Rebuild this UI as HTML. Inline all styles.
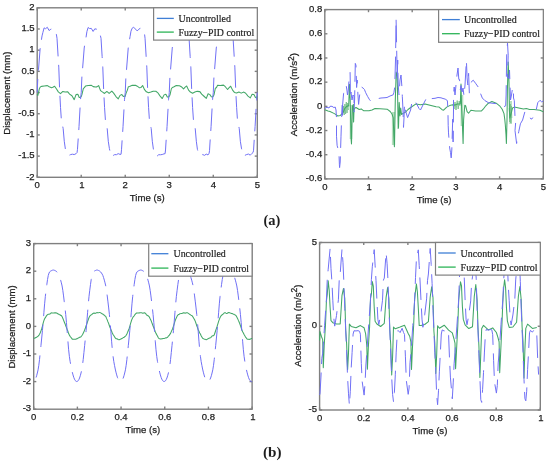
<!DOCTYPE html>
<html><head><meta charset="utf-8"><style>html,body{margin:0;padding:0;background:#fff;}svg{display:block;}</style></head>
<body><svg width="550" height="462" viewBox="0 0 550 462">
<rect width="550" height="462" fill="#fff"/>
<g stroke="#808080" stroke-width="1.4"><line x1="37.20" y1="177.30" x2="37.20" y2="174.70"/><line x1="37.20" y1="7.80" x2="37.20" y2="10.40"/><line x1="81.22" y1="177.30" x2="81.22" y2="174.70"/><line x1="81.22" y1="7.80" x2="81.22" y2="10.40"/><line x1="125.24" y1="177.30" x2="125.24" y2="174.70"/><line x1="125.24" y1="7.80" x2="125.24" y2="10.40"/><line x1="169.26" y1="177.30" x2="169.26" y2="174.70"/><line x1="169.26" y1="7.80" x2="169.26" y2="10.40"/><line x1="213.28" y1="177.30" x2="213.28" y2="174.70"/><line x1="213.28" y1="7.80" x2="213.28" y2="10.40"/><line x1="257.30" y1="177.30" x2="257.30" y2="174.70"/><line x1="257.30" y1="7.80" x2="257.30" y2="10.40"/><line x1="37.20" y1="177.30" x2="39.80" y2="177.30"/><line x1="257.30" y1="177.30" x2="254.70" y2="177.30"/><line x1="37.20" y1="156.11" x2="39.80" y2="156.11"/><line x1="257.30" y1="156.11" x2="254.70" y2="156.11"/><line x1="37.20" y1="134.93" x2="39.80" y2="134.93"/><line x1="257.30" y1="134.93" x2="254.70" y2="134.93"/><line x1="37.20" y1="113.74" x2="39.80" y2="113.74"/><line x1="257.30" y1="113.74" x2="254.70" y2="113.74"/><line x1="37.20" y1="92.55" x2="39.80" y2="92.55"/><line x1="257.30" y1="92.55" x2="254.70" y2="92.55"/><line x1="37.20" y1="71.36" x2="39.80" y2="71.36"/><line x1="257.30" y1="71.36" x2="254.70" y2="71.36"/><line x1="37.20" y1="50.18" x2="39.80" y2="50.18"/><line x1="257.30" y1="50.18" x2="254.70" y2="50.18"/><line x1="37.20" y1="28.99" x2="39.80" y2="28.99"/><line x1="257.30" y1="28.99" x2="254.70" y2="28.99"/><line x1="37.20" y1="7.80" x2="39.80" y2="7.80"/><line x1="257.30" y1="7.80" x2="254.70" y2="7.80"/><rect x="37.20" y="7.80" width="220.10" height="169.50" fill="none"/></g><g font-family="'Liberation Sans', Arial, sans-serif" font-size="9.5" fill="#1e1e1e" stroke="#1e1e1e" stroke-width="0.25"><text x="37.20" y="187.90" text-anchor="middle">0</text><text x="81.92" y="187.90" text-anchor="middle">1</text><text x="125.24" y="187.90" text-anchor="middle">2</text><text x="169.26" y="187.90" text-anchor="middle">3</text><text x="213.28" y="187.90" text-anchor="middle">4</text><text x="257.30" y="187.90" text-anchor="middle">5</text><text x="34.60" y="179.50" text-anchor="end">-2</text><text x="34.60" y="158.31" text-anchor="end">-1.5</text><text x="34.60" y="137.12" text-anchor="end">-1</text><text x="34.60" y="115.94" text-anchor="end">-0.5</text><text x="34.60" y="94.75" text-anchor="end">0</text><text x="34.60" y="73.56" text-anchor="end">0.5</text><text x="34.60" y="52.38" text-anchor="end">1</text><text x="34.60" y="31.19" text-anchor="end">1.5</text><text x="34.60" y="10.00" text-anchor="end">2</text></g><g stroke="#808080" stroke-width="1.4"><line x1="324.80" y1="178.90" x2="324.80" y2="176.30"/><line x1="324.80" y1="9.60" x2="324.80" y2="12.20"/><line x1="368.50" y1="178.90" x2="368.50" y2="176.30"/><line x1="368.50" y1="9.60" x2="368.50" y2="12.20"/><line x1="412.20" y1="178.90" x2="412.20" y2="176.30"/><line x1="412.20" y1="9.60" x2="412.20" y2="12.20"/><line x1="455.90" y1="178.90" x2="455.90" y2="176.30"/><line x1="455.90" y1="9.60" x2="455.90" y2="12.20"/><line x1="499.60" y1="178.90" x2="499.60" y2="176.30"/><line x1="499.60" y1="9.60" x2="499.60" y2="12.20"/><line x1="543.30" y1="178.90" x2="543.30" y2="176.30"/><line x1="543.30" y1="9.60" x2="543.30" y2="12.20"/><line x1="324.80" y1="178.90" x2="327.40" y2="178.90"/><line x1="543.30" y1="178.90" x2="540.70" y2="178.90"/><line x1="324.80" y1="154.71" x2="327.40" y2="154.71"/><line x1="543.30" y1="154.71" x2="540.70" y2="154.71"/><line x1="324.80" y1="130.53" x2="327.40" y2="130.53"/><line x1="543.30" y1="130.53" x2="540.70" y2="130.53"/><line x1="324.80" y1="106.34" x2="327.40" y2="106.34"/><line x1="543.30" y1="106.34" x2="540.70" y2="106.34"/><line x1="324.80" y1="82.16" x2="327.40" y2="82.16"/><line x1="543.30" y1="82.16" x2="540.70" y2="82.16"/><line x1="324.80" y1="57.97" x2="327.40" y2="57.97"/><line x1="543.30" y1="57.97" x2="540.70" y2="57.97"/><line x1="324.80" y1="33.79" x2="327.40" y2="33.79"/><line x1="543.30" y1="33.79" x2="540.70" y2="33.79"/><line x1="324.80" y1="9.60" x2="327.40" y2="9.60"/><line x1="543.30" y1="9.60" x2="540.70" y2="9.60"/><rect x="324.80" y="9.60" width="218.50" height="169.30" fill="none"/></g><g font-family="'Liberation Sans', Arial, sans-serif" font-size="9.5" fill="#1e1e1e" stroke="#1e1e1e" stroke-width="0.25"><text x="324.80" y="189.50" text-anchor="middle">0</text><text x="369.20" y="189.50" text-anchor="middle">1</text><text x="412.20" y="189.50" text-anchor="middle">2</text><text x="455.90" y="189.50" text-anchor="middle">3</text><text x="499.60" y="189.50" text-anchor="middle">4</text><text x="543.30" y="189.50" text-anchor="middle">5</text><text x="322.20" y="181.10" text-anchor="end">-0.6</text><text x="322.20" y="156.91" text-anchor="end">-0.4</text><text x="322.20" y="132.73" text-anchor="end">-0.2</text><text x="322.20" y="108.54" text-anchor="end">0</text><text x="322.20" y="84.36" text-anchor="end">0.2</text><text x="322.20" y="60.17" text-anchor="end">0.4</text><text x="322.20" y="35.99" text-anchor="end">0.6</text><text x="322.20" y="11.80" text-anchor="end">0.8</text></g><g stroke="#808080" stroke-width="1.4"><line x1="33.70" y1="409.20" x2="33.70" y2="406.60"/><line x1="33.70" y1="243.60" x2="33.70" y2="246.20"/><line x1="77.38" y1="409.20" x2="77.38" y2="406.60"/><line x1="77.38" y1="243.60" x2="77.38" y2="246.20"/><line x1="121.06" y1="409.20" x2="121.06" y2="406.60"/><line x1="121.06" y1="243.60" x2="121.06" y2="246.20"/><line x1="164.74" y1="409.20" x2="164.74" y2="406.60"/><line x1="164.74" y1="243.60" x2="164.74" y2="246.20"/><line x1="208.42" y1="409.20" x2="208.42" y2="406.60"/><line x1="208.42" y1="243.60" x2="208.42" y2="246.20"/><line x1="252.10" y1="409.20" x2="252.10" y2="406.60"/><line x1="252.10" y1="243.60" x2="252.10" y2="246.20"/><line x1="33.70" y1="409.20" x2="36.30" y2="409.20"/><line x1="252.10" y1="409.20" x2="249.50" y2="409.20"/><line x1="33.70" y1="381.60" x2="36.30" y2="381.60"/><line x1="252.10" y1="381.60" x2="249.50" y2="381.60"/><line x1="33.70" y1="354.00" x2="36.30" y2="354.00"/><line x1="252.10" y1="354.00" x2="249.50" y2="354.00"/><line x1="33.70" y1="326.40" x2="36.30" y2="326.40"/><line x1="252.10" y1="326.40" x2="249.50" y2="326.40"/><line x1="33.70" y1="298.80" x2="36.30" y2="298.80"/><line x1="252.10" y1="298.80" x2="249.50" y2="298.80"/><line x1="33.70" y1="271.20" x2="36.30" y2="271.20"/><line x1="252.10" y1="271.20" x2="249.50" y2="271.20"/><line x1="33.70" y1="243.60" x2="36.30" y2="243.60"/><line x1="252.10" y1="243.60" x2="249.50" y2="243.60"/><rect x="33.70" y="243.60" width="218.40" height="165.60" fill="none"/></g><g font-family="'Liberation Sans', Arial, sans-serif" font-size="9.5" fill="#1e1e1e" stroke="#1e1e1e" stroke-width="0.25"><text x="33.70" y="419.80" text-anchor="middle">0</text><text x="77.38" y="419.80" text-anchor="middle">0.2</text><text x="121.06" y="419.80" text-anchor="middle">0.4</text><text x="164.74" y="419.80" text-anchor="middle">0.6</text><text x="208.42" y="419.80" text-anchor="middle">0.8</text><text x="252.80" y="419.80" text-anchor="middle">1</text><text x="31.10" y="411.40" text-anchor="end">-3</text><text x="31.10" y="383.80" text-anchor="end">-2</text><text x="31.10" y="356.20" text-anchor="end">-1</text><text x="31.10" y="328.60" text-anchor="end">0</text><text x="31.10" y="301.00" text-anchor="end">1</text><text x="31.10" y="273.40" text-anchor="end">2</text><text x="31.10" y="245.80" text-anchor="end">3</text></g><g stroke="#808080" stroke-width="1.4"><line x1="319.60" y1="410.00" x2="319.60" y2="407.40"/><line x1="319.60" y1="242.50" x2="319.60" y2="245.10"/><line x1="363.74" y1="410.00" x2="363.74" y2="407.40"/><line x1="363.74" y1="242.50" x2="363.74" y2="245.10"/><line x1="407.88" y1="410.00" x2="407.88" y2="407.40"/><line x1="407.88" y1="242.50" x2="407.88" y2="245.10"/><line x1="452.02" y1="410.00" x2="452.02" y2="407.40"/><line x1="452.02" y1="242.50" x2="452.02" y2="245.10"/><line x1="496.16" y1="410.00" x2="496.16" y2="407.40"/><line x1="496.16" y1="242.50" x2="496.16" y2="245.10"/><line x1="540.30" y1="410.00" x2="540.30" y2="407.40"/><line x1="540.30" y1="242.50" x2="540.30" y2="245.10"/><line x1="319.60" y1="410.00" x2="322.20" y2="410.00"/><line x1="540.30" y1="410.00" x2="537.70" y2="410.00"/><line x1="319.60" y1="326.25" x2="322.20" y2="326.25"/><line x1="540.30" y1="326.25" x2="537.70" y2="326.25"/><line x1="319.60" y1="242.50" x2="322.20" y2="242.50"/><line x1="540.30" y1="242.50" x2="537.70" y2="242.50"/><rect x="319.60" y="242.50" width="220.70" height="167.50" fill="none"/></g><g font-family="'Liberation Sans', Arial, sans-serif" font-size="9.5" fill="#1e1e1e" stroke="#1e1e1e" stroke-width="0.25"><text x="319.60" y="420.60" text-anchor="middle">0</text><text x="363.74" y="420.60" text-anchor="middle">0.2</text><text x="407.88" y="420.60" text-anchor="middle">0.4</text><text x="452.02" y="420.60" text-anchor="middle">0.6</text><text x="496.16" y="420.60" text-anchor="middle">0.8</text><text x="541.00" y="420.60" text-anchor="middle">1</text><text x="317.00" y="412.20" text-anchor="end">-5</text><text x="317.00" y="328.45" text-anchor="end">0</text><text x="317.00" y="244.70" text-anchor="end">5</text></g><g font-family="'Liberation Sans', Arial, sans-serif" font-size="9.6" fill="#1e1e1e" stroke="#1e1e1e" stroke-width="0.25"><text x="147.25" y="201.30" text-anchor="middle">Time (s)</text><text x="434.05" y="202.90" text-anchor="middle">Time (s)</text><text x="142.90" y="433.20" text-anchor="middle">Time (s)</text><text x="429.95" y="434.00" text-anchor="middle">Time (s)</text><text transform="translate(10,93.2) rotate(-90)" text-anchor="middle">Displacement (mm)</text><text transform="translate(15.3,327) rotate(-90)" text-anchor="middle">Displacement (mm)</text><text transform="translate(297.4,94.6) rotate(-90)" text-anchor="middle" font-size="9.75">Acceleration (m/s<tspan dy="-3.9" font-size="8.6">2</tspan><tspan dy="3.9">)</tspan></text><text transform="translate(301.1,325.6) rotate(-90)" text-anchor="middle">Acceleration (m/s<tspan dy="-3.9" font-size="8.6">2</tspan><tspan dy="3.9">)</tspan></text></g><path d="M37.20,94.03 L37.90,95.39 L39.31,88.89 L40.28,86.90 L41.51,86.38 L44.20,85.98 L47.41,85.63 L49.22,86.77 L51.51,87.64 L52.83,87.25 L54.59,86.22 L56.52,88.98 L58.33,91.85 L60.53,93.61 L62.82,91.45 L65.11,91.96 L67.79,91.85 L69.60,94.05 L71.93,95.74 L74.22,99.62 L76.03,94.61 L77.83,94.29 L79.24,97.58 L80.52,97.22 L81.22,96.64 L81.92,94.67 L83.33,88.62 L84.30,87.66 L85.53,86.08 L88.22,85.49 L91.43,85.37 L93.24,86.63 L95.53,87.06 L96.85,86.87 L98.61,85.56 L100.54,90.58 L102.35,91.92 L104.55,93.45 L106.84,91.47 L109.13,93.41 L111.81,91.15 L113.62,93.11 L115.95,96.52 L118.24,98.85 L120.05,95.37 L121.85,94.52 L123.26,96.42 L124.54,96.21 L125.24,96.25 L125.94,93.68 L127.35,90.10 L128.32,86.82 L129.55,86.40 L132.24,85.36 L135.45,85.22 L137.26,86.19 L139.55,87.83 L140.87,87.56 L142.63,85.50 L144.56,89.69 L146.37,91.82 L148.57,92.74 L150.86,92.03 L153.15,91.15 L155.83,91.23 L157.64,92.55 L159.97,95.87 L162.26,98.55 L164.07,94.88 L165.87,94.17 L167.28,97.04 L168.56,97.06 L169.26,96.16 L169.96,95.07 L171.37,88.76 L172.34,87.49 L173.57,87.05 L176.26,85.57 L179.47,85.72 L181.28,86.69 L183.57,88.98 L184.89,87.32 L186.65,85.95 L188.58,90.12 L190.39,92.08 L192.59,93.18 L194.88,92.03 L197.17,91.37 L199.85,91.64 L201.66,94.17 L203.99,96.26 L206.28,98.38 L208.09,93.80 L209.89,94.63 L211.30,96.68 L212.58,96.99 L213.28,96.17 L213.98,94.83 L215.39,88.10 L216.36,87.71 L217.59,85.21 L220.28,85.47 L223.49,85.14 L225.30,86.72 L227.59,89.49 L228.91,87.93 L230.67,86.22 L232.60,90.13 L234.41,92.43 L236.61,92.96 L238.90,92.08 L241.19,93.12 L243.87,92.09 L245.68,93.21 L248.01,96.10 L250.30,97.88 L252.11,94.19 L253.91,94.53 L255.32,97.32 L256.60,97.92 L257.30,96.17" fill="none" stroke="#42a767" stroke-width="1.05" stroke-linejoin="round"/><path d="M37.20,92.55 L37.90,76.02 L38.52,69.24 L40.19,48.06 L41.12,41.70 L42.04,35.90 L42.92,32.39 L44.11,27.86 L45.56,28.69 L47.32,27.30 L49.09,30.54 L50.85,29.21 L52.17,28.74 L53.49,30.26 L54.81,30.08 L55.69,31.35 L56.35,34.19 L57.01,38.31 L58.11,56.53 L58.77,67.13 L59.65,90.43 L60.53,107.38 L61.41,120.52 L63.17,128.57 L64.27,141.28 L65.37,148.99 L67.13,154.46 L68.89,155.44 L70.66,154.57 L72.42,154.20 L74.18,154.56 L75.94,153.76 L77.04,152.59 L77.48,149.39 L77.92,142.98 L79.02,126.45 L80.52,99.33 L81.22,92.55 L81.92,76.02 L82.54,69.24 L84.21,48.06 L85.14,41.70 L86.06,37.14 L86.94,31.42 L88.13,27.51 L89.58,28.53 L91.34,28.40 L93.11,31.44 L94.87,28.76 L96.19,29.23 L97.51,28.94 L98.83,29.43 L99.71,31.34 L100.37,35.59 L101.03,38.31 L102.13,56.53 L102.79,67.13 L103.67,90.43 L104.55,107.38 L105.43,120.52 L107.19,128.57 L108.29,141.28 L109.39,148.46 L111.15,156.62 L112.91,155.64 L114.68,154.62 L116.44,154.70 L118.20,153.63 L119.96,154.36 L121.06,154.25 L121.50,149.76 L121.94,142.98 L123.04,126.45 L124.54,99.33 L125.24,92.55 L125.94,76.02 L126.56,69.24 L128.23,48.06 L129.16,41.70 L130.08,36.45 L130.96,31.23 L132.15,28.23 L133.60,27.18 L135.36,28.99 L137.13,30.88 L138.89,29.28 L140.21,28.26 L141.53,30.28 L142.85,30.00 L143.73,30.80 L144.39,32.93 L145.05,38.31 L146.15,56.53 L146.81,67.13 L147.69,90.43 L148.57,107.38 L149.45,120.52 L151.21,128.57 L152.31,141.28 L153.41,149.26 L155.17,155.60 L156.93,156.24 L158.70,154.71 L160.46,154.77 L162.22,154.49 L163.98,153.87 L165.08,153.67 L165.52,149.97 L165.96,142.98 L167.06,126.45 L168.56,99.33 L169.26,92.55 L169.96,76.02 L170.58,69.24 L172.25,48.06 L173.18,41.70 L174.10,36.22 L174.98,31.86 L176.17,27.62 L177.62,27.48 L179.38,29.31 L181.15,30.29 L182.91,27.95 L184.23,28.39 L185.55,29.71 L186.87,29.59 L187.75,32.13 L188.41,34.01 L189.07,38.31 L190.17,56.53 L190.83,67.13 L191.71,90.43 L192.59,107.38 L193.47,120.52 L195.23,128.57 L196.33,141.28 L197.43,149.45 L199.19,155.66 L200.95,155.35 L202.72,154.54 L204.48,155.37 L206.24,154.11 L208.00,154.93 L209.10,153.25 L209.54,150.52 L209.98,142.98 L211.08,126.45 L212.58,99.33 L213.28,92.55 L213.98,76.02 L214.60,69.24 L216.27,48.06 L217.20,41.70 L218.12,36.52 L219.00,29.98 L220.19,27.79 L221.64,28.12 L223.40,30.01 L225.17,31.15 L226.93,28.63 L228.25,27.94 L229.57,29.36 L230.89,28.64 L231.77,30.65 L232.43,34.48 L233.09,38.31 L234.19,56.53 L234.85,67.13 L235.73,90.43 L236.61,107.38 L237.49,120.52 L239.25,128.57 L240.35,141.28 L241.45,148.12 L243.21,155.82 L244.97,155.32 L246.74,154.50 L248.50,154.06 L250.26,155.16 L252.02,153.34 L253.12,152.39 L253.56,150.27 L254.00,142.98 L255.10,126.45 L256.60,99.33 L257.30,92.55" fill="none" stroke="#7070f6" stroke-width="1.0" stroke-dasharray="22.5 8.5" stroke-dashoffset="9" stroke-linejoin="round"/><path d="M33.70,338.42 L34.43,338.12 L35.16,337.98 L35.88,337.56 L36.61,337.24 L37.34,336.63 L38.07,336.18 L38.80,335.40 L39.52,334.19 L40.25,332.69 L40.98,330.87 L41.71,328.73 L42.44,326.24 L43.16,323.07 L43.89,320.68 L44.62,318.77 L45.35,317.62 L46.08,316.42 L46.80,315.42 L47.53,314.60 L48.26,314.23 L48.99,314.25 L49.72,313.99 L50.44,313.74 L51.17,312.75 L51.90,312.91 L52.63,312.95 L53.36,312.93 L54.08,313.01 L54.81,312.75 L55.54,312.87 L56.27,312.86 L57.00,313.22 L57.72,313.78 L58.45,313.99 L59.18,314.49 L59.91,314.78 L60.64,315.36 L61.36,315.48 L62.09,316.65 L62.82,318.23 L63.55,320.10 L64.28,321.94 L65.00,323.69 L65.73,325.90 L66.46,327.60 L67.19,329.59 L67.92,331.29 L68.64,333.57 L69.37,335.15 L70.10,336.32 L70.83,337.21 L71.56,338.14 L72.28,339.16 L73.01,339.22 L73.74,339.19 L74.47,339.32 L75.20,339.33 L75.92,339.24 L76.65,338.69 L77.38,338.68 L78.11,338.10 L78.84,337.78 L79.56,337.26 L80.29,337.17 L81.02,336.70 L81.75,335.78 L82.48,334.75 L83.20,333.27 L83.93,331.85 L84.66,329.85 L85.39,327.97 L86.12,325.78 L86.84,323.92 L87.57,321.67 L88.30,319.51 L89.03,317.59 L89.76,316.23 L90.48,315.46 L91.21,314.79 L91.94,314.49 L92.67,313.74 L93.40,313.32 L94.12,313.02 L94.85,313.37 L95.58,313.31 L96.31,312.89 L97.04,312.55 L97.76,312.66 L98.49,312.66 L99.22,312.59 L99.95,312.48 L100.68,312.90 L101.40,313.27 L102.13,313.69 L102.86,314.06 L103.59,314.80 L104.32,315.15 L105.04,315.96 L105.77,316.43 L106.50,318.39 L107.23,319.87 L107.96,321.90 L108.68,323.56 L109.41,325.71 L110.14,327.73 L110.87,329.38 L111.60,331.22 L112.32,332.98 L113.05,334.43 L113.78,335.57 L114.51,336.76 L115.24,337.90 L115.96,338.61 L116.69,338.74 L117.42,339.08 L118.15,339.49 L118.88,339.68 L119.60,339.61 L120.33,339.29 L121.06,339.05 L121.79,338.44 L122.52,338.15 L123.24,337.60 L123.97,337.51 L124.70,336.62 L125.43,336.31 L126.16,335.23 L126.88,333.98 L127.61,332.30 L128.34,330.50 L129.07,328.77 L129.80,326.31 L130.52,323.72 L131.25,321.29 L131.98,319.18 L132.71,317.76 L133.44,316.53 L134.16,315.82 L134.89,314.71 L135.62,313.86 L136.35,313.11 L137.08,313.01 L137.80,313.01 L138.53,312.94 L139.26,312.89 L139.99,312.65 L140.72,312.66 L141.44,312.72 L142.17,312.89 L142.90,313.14 L143.63,312.90 L144.36,312.72 L145.08,313.03 L145.81,313.69 L146.54,314.95 L147.27,315.28 L148.00,315.81 L148.72,316.29 L149.45,317.18 L150.18,318.77 L150.91,320.18 L151.64,322.14 L152.36,324.05 L153.09,325.96 L153.82,327.77 L154.55,329.62 L155.28,331.69 L156.00,333.37 L156.73,334.65 L157.46,336.09 L158.19,337.49 L158.92,338.46 L159.64,338.78 L160.37,338.87 L161.10,338.91 L161.83,338.69 L162.56,338.62 L163.28,338.48 L164.01,338.43 L164.74,338.19 L165.47,337.86 L166.20,337.91 L166.92,337.57 L167.65,337.18 L168.38,336.07 L169.11,335.47 L169.84,334.40 L170.56,333.40 L171.29,331.64 L172.02,330.00 L172.75,328.18 L173.48,326.13 L174.20,323.78 L174.93,321.36 L175.66,319.41 L176.39,317.74 L177.12,316.11 L177.84,315.18 L178.57,314.45 L179.30,314.27 L180.03,313.65 L180.76,313.56 L181.48,313.43 L182.21,313.41 L182.94,312.98 L183.67,312.80 L184.40,312.88 L185.12,313.14 L185.85,313.03 L186.58,312.78 L187.31,312.76 L188.04,313.13 L188.76,313.63 L189.49,314.21 L190.22,314.67 L190.95,315.18 L191.68,315.48 L192.40,316.13 L193.13,317.30 L193.86,318.45 L194.59,319.71 L195.32,321.36 L196.04,323.47 L196.77,325.84 L197.50,327.63 L198.23,329.79 L198.96,331.20 L199.68,333.02 L200.41,334.05 L201.14,335.81 L201.87,337.03 L202.60,338.25 L203.32,338.61 L204.05,339.00 L204.78,339.17 L205.51,339.56 L206.24,339.74 L206.96,339.35 L207.69,338.97 L208.42,338.41 L209.15,338.12 L209.88,338.02 L210.60,337.61 L211.33,337.00 L212.06,336.05 L212.79,335.71 L213.52,335.65 L214.24,334.79 L214.97,332.71 L215.70,330.48 L216.43,328.40 L217.16,326.19 L217.88,323.80 L218.61,321.37 L219.34,319.34 L220.07,317.55 L220.80,316.21 L221.52,315.46 L222.25,314.68 L222.98,314.26 L223.71,313.49 L224.44,312.79 L225.16,312.64 L225.89,313.12 L226.62,313.56 L227.35,313.30 L228.08,312.69 L228.80,312.41 L229.53,312.63 L230.26,313.07 L230.99,313.24 L231.72,313.60 L232.44,313.57 L233.17,314.19 L233.90,314.22 L234.63,314.67 L235.36,315.01 L236.08,315.71 L236.81,317.01 L237.54,318.40 L238.27,320.13 L239.00,321.72 L239.72,323.52 L240.45,325.68 L241.18,327.85 L241.91,330.03 L242.64,331.69 L243.36,333.02 L244.09,334.56 L244.82,335.77 L245.55,337.09 L246.28,337.94 L247.00,338.91 L247.73,339.22 L248.46,339.18 L249.19,339.39 L249.92,339.25 L250.64,338.99 L251.37,338.42 L252.10,338.55" fill="none" stroke="#42a767" stroke-width="1.05" stroke-linejoin="round"/><path d="M33.70,381.22 L34.43,380.77 L35.16,379.64 L35.88,378.03 L36.61,375.77 L37.34,373.01 L38.07,369.83 L38.80,365.32 L39.52,359.57 L40.25,352.53 L40.98,345.39 L41.71,338.03 L42.44,330.45 L43.16,321.99 L43.89,312.78 L44.62,303.84 L45.35,296.34 L46.08,290.27 L46.80,284.67 L47.53,279.56 L48.26,275.52 L48.99,273.10 L49.72,271.81 L50.44,271.21 L51.17,270.78 L51.90,270.46 L52.63,270.14 L53.36,270.04 L54.08,270.15 L54.81,270.48 L55.54,270.81 L56.27,271.30 L57.00,272.01 L57.72,272.92 L58.45,274.06 L59.18,275.51 L59.91,277.63 L60.64,280.14 L61.36,282.86 L62.09,285.98 L62.82,290.39 L63.55,295.92 L64.28,301.86 L65.00,307.96 L65.73,314.61 L66.46,322.59 L67.19,331.73 L67.92,341.18 L68.64,349.77 L69.37,356.30 L70.10,361.37 L70.83,365.37 L71.56,369.03 L72.28,372.15 L73.01,374.92 L73.74,377.30 L74.47,379.16 L75.20,380.50 L75.92,381.17 L76.65,381.54 L77.38,381.34 L78.11,380.77 L78.84,379.64 L79.56,378.03 L80.29,375.77 L81.02,373.01 L81.75,369.83 L82.48,365.32 L83.20,359.57 L83.93,352.53 L84.66,345.39 L85.39,338.03 L86.12,330.45 L86.84,321.99 L87.57,312.78 L88.30,303.84 L89.03,296.34 L89.76,290.27 L90.48,284.67 L91.21,279.56 L91.94,275.52 L92.67,273.10 L93.40,271.81 L94.12,271.21 L94.85,270.78 L95.58,270.46 L96.31,270.14 L97.04,270.04 L97.76,270.15 L98.49,270.48 L99.22,270.81 L99.95,271.30 L100.68,272.01 L101.40,272.92 L102.13,274.06 L102.86,275.51 L103.59,277.63 L104.32,280.14 L105.04,282.86 L105.77,285.98 L106.50,290.39 L107.23,295.92 L107.96,301.86 L108.68,307.96 L109.41,314.61 L110.14,322.59 L110.87,331.73 L111.60,341.18 L112.32,349.77 L113.05,356.30 L113.78,361.37 L114.51,365.37 L115.24,369.03 L115.96,372.15 L116.69,374.92 L117.42,377.30 L118.15,379.16 L118.88,380.50 L119.60,381.17 L120.33,381.54 L121.06,381.34 L121.79,380.77 L122.52,379.64 L123.24,378.03 L123.97,375.77 L124.70,373.01 L125.43,369.83 L126.16,365.32 L126.88,359.57 L127.61,352.53 L128.34,345.39 L129.07,338.03 L129.80,330.45 L130.52,321.99 L131.25,312.78 L131.98,303.84 L132.71,296.34 L133.44,290.27 L134.16,284.67 L134.89,279.56 L135.62,275.52 L136.35,273.10 L137.08,271.81 L137.80,271.21 L138.53,270.78 L139.26,270.46 L139.99,270.14 L140.72,270.04 L141.44,270.15 L142.17,270.48 L142.90,270.81 L143.63,271.30 L144.36,272.01 L145.08,272.92 L145.81,274.06 L146.54,275.51 L147.27,277.63 L148.00,280.14 L148.72,282.86 L149.45,285.98 L150.18,290.39 L150.91,295.92 L151.64,301.86 L152.36,307.96 L153.09,314.61 L153.82,322.59 L154.55,331.73 L155.28,341.18 L156.00,349.77 L156.73,356.30 L157.46,361.37 L158.19,365.37 L158.92,369.03 L159.64,372.15 L160.37,374.92 L161.10,377.30 L161.83,379.16 L162.56,380.50 L163.28,381.17 L164.01,381.54 L164.74,381.34 L165.47,380.77 L166.20,379.64 L166.92,378.03 L167.65,375.77 L168.38,373.01 L169.11,369.83 L169.84,365.32 L170.56,359.57 L171.29,352.53 L172.02,345.39 L172.75,338.03 L173.48,330.45 L174.20,321.99 L174.93,312.78 L175.66,303.84 L176.39,296.34 L177.12,290.27 L177.84,284.67 L178.57,279.56 L179.30,275.52 L180.03,273.10 L180.76,271.81 L181.48,271.21 L182.21,270.78 L182.94,270.46 L183.67,270.14 L184.40,270.04 L185.12,270.15 L185.85,270.48 L186.58,270.81 L187.31,271.30 L188.04,272.01 L188.76,272.92 L189.49,274.06 L190.22,275.51 L190.95,277.63 L191.68,280.14 L192.40,282.86 L193.13,285.98 L193.86,290.39 L194.59,295.92 L195.32,301.86 L196.04,307.96 L196.77,314.61 L197.50,322.59 L198.23,331.73 L198.96,341.18 L199.68,349.77 L200.41,356.30 L201.14,361.37 L201.87,365.37 L202.60,369.03 L203.32,372.15 L204.05,374.92 L204.78,377.30 L205.51,379.16 L206.24,380.50 L206.96,381.17 L207.69,381.54 L208.42,381.34 L209.15,380.77 L209.88,379.64 L210.60,378.03 L211.33,375.77 L212.06,373.01 L212.79,369.83 L213.52,365.32 L214.24,359.57 L214.97,352.53 L215.70,345.39 L216.43,338.03 L217.16,330.45 L217.88,321.99 L218.61,312.78 L219.34,303.84 L220.07,296.34 L220.80,290.27 L221.52,284.67 L222.25,279.56 L222.98,275.52 L223.71,273.10 L224.44,271.81 L225.16,271.21 L225.89,270.78 L226.62,270.46 L227.35,270.14 L228.08,270.04 L228.80,270.15 L229.53,270.48 L230.26,270.81 L230.99,271.30 L231.72,272.01 L232.44,272.92 L233.17,274.06 L233.90,275.51 L234.63,277.63 L235.36,280.14 L236.08,282.86 L236.81,285.98 L237.54,290.39 L238.27,295.92 L239.00,301.86 L239.72,307.96 L240.45,314.61 L241.18,322.59 L241.91,331.73 L242.64,341.18 L243.36,349.77 L244.09,356.30 L244.82,361.37 L245.55,365.37 L246.28,369.03 L247.00,372.15 L247.73,374.92 L248.46,377.30 L249.19,379.16 L249.92,380.50 L250.64,381.17 L251.37,381.54 L252.10,381.60" fill="none" stroke="#7070f6" stroke-width="1.0" stroke-dasharray="22.5 8.5" stroke-dashoffset="26.5" stroke-linejoin="round"/><path d="M319.60,340.49 L320.00,331.55 L321.50,336.75 L322.70,339.65 L323.30,367.77 L324.20,345.55 L325.50,324.63 L326.40,301.13 L327.30,294.00 L328.20,280.89 L329.20,290.24 L330.10,307.32 L331.00,320.69 L332.80,322.66 L336.50,323.97 L340.20,323.96 L342.00,295.28 L343.50,288.47 L344.80,298.47 L345.70,329.82 L346.60,342.95 L347.60,369.65 L348.50,352.87 L349.40,324.07 L351.20,326.40 L356.00,327.75 L360.40,325.58 L364.10,327.81 L365.60,333.57 L366.80,345.60 L367.40,369.29 L368.30,347.75 L369.60,326.69 L370.50,298.34 L371.40,293.92 L372.30,281.56 L373.30,286.11 L374.20,306.98 L375.10,321.29 L376.90,324.06 L380.60,326.51 L384.30,323.32 L386.10,297.31 L387.60,287.62 L388.90,298.49 L389.80,330.04 L390.70,343.86 L391.70,375.01 L392.60,356.42 L393.50,327.03 L395.30,328.84 L400.10,327.08 L404.50,325.27 L408.20,333.47 L409.70,336.25 L410.90,341.90 L411.50,369.38 L412.40,349.03 L413.70,324.18 L414.60,299.80 L415.50,291.17 L416.40,283.91 L417.40,292.07 L418.30,307.74 L419.20,325.52 L421.00,325.41 L424.70,324.48 L428.40,321.70 L430.20,297.01 L431.70,286.75 L433.00,297.77 L433.90,331.06 L434.80,342.82 L435.80,373.40 L436.70,354.20 L437.60,325.84 L439.40,328.20 L444.20,325.19 L448.60,330.13 L452.30,332.82 L453.80,338.24 L455.00,343.02 L455.60,368.68 L456.50,350.92 L457.80,325.65 L458.70,299.85 L459.60,290.61 L460.50,281.87 L461.50,285.86 L462.40,306.69 L463.30,319.41 L465.10,324.80 L468.80,328.58 L472.50,326.66 L474.30,296.07 L475.80,284.51 L477.10,299.77 L478.00,327.83 L478.90,345.65 L479.90,377.57 L480.80,353.22 L481.70,328.56 L483.50,325.38 L488.30,329.86 L492.70,327.90 L496.40,332.53 L497.90,337.34 L499.10,341.74 L499.70,372.74 L500.60,354.03 L501.90,325.81 L502.80,302.19 L503.70,287.46 L504.60,279.79 L505.60,287.92 L506.50,308.37 L507.40,321.11 L509.20,327.47 L512.90,326.96 L516.60,322.29 L518.40,295.97 L519.90,286.56 L521.20,299.76 L522.10,326.85 L523.00,341.12 L524.00,378.01 L524.90,349.41 L525.80,328.36 L527.60,324.11 L532.40,328.43 L536.80,327.46" fill="none" stroke="#42a767" stroke-width="1.05" stroke-linejoin="round"/><path d="M319.60,394.93 L320.00,393.69 L320.90,377.97 L321.80,358.33 L322.70,353.22 L324.60,325.26 L326.40,300.24 L327.30,278.39 L328.20,269.21 L330.10,248.64 L331.00,268.72 L331.90,281.45 L332.80,300.22 L333.80,317.89 L334.70,326.14 L336.50,315.46 L338.40,299.72 L339.30,278.33 L340.20,273.45 L342.00,249.11 L343.00,262.78 L343.90,283.20 L344.80,308.35 L345.70,330.22 L346.60,351.78 L347.60,377.75 L348.50,393.79 L349.40,405.23 L350.30,391.33 L351.20,367.96 L352.10,352.41 L353.10,334.09 L354.00,330.77 L356.00,330.94 L358.00,330.65 L359.50,331.28 L360.40,334.24 L361.30,363.52 L362.20,381.61 L364.10,395.10 L365.00,383.84 L365.90,365.03 L366.80,352.70 L368.70,324.58 L370.50,300.19 L371.40,279.44 L372.30,266.81 L374.20,249.61 L375.10,265.12 L376.00,280.36 L376.90,299.93 L377.90,319.51 L378.80,324.59 L380.60,314.90 L382.50,300.23 L383.40,280.02 L384.30,278.09 L386.10,252.71 L387.10,263.78 L388.00,280.93 L388.90,308.48 L389.80,329.24 L390.70,353.93 L391.70,377.35 L392.60,394.41 L393.50,401.76 L394.40,392.45 L395.30,374.82 L396.20,352.13 L397.20,333.86 L398.10,330.45 L400.10,332.58 L402.10,328.26 L403.60,332.62 L404.50,334.40 L405.40,356.17 L406.30,380.25 L408.20,394.34 L409.10,388.02 L410.00,362.70 L410.90,353.67 L412.80,325.52 L414.60,300.53 L415.50,277.68 L416.40,259.29 L418.30,249.83 L419.20,265.47 L420.10,281.99 L421.00,300.30 L422.00,319.17 L422.90,327.27 L424.70,314.81 L426.60,298.89 L427.50,280.67 L428.40,273.99 L430.20,248.41 L431.20,264.52 L432.10,283.42 L433.00,310.41 L433.90,330.33 L434.80,352.73 L435.80,371.48 L436.70,395.44 L437.60,404.72 L438.50,390.75 L439.40,371.20 L440.30,353.84 L441.30,334.03 L442.20,329.91 L444.20,331.03 L446.20,329.15 L447.70,331.41 L448.60,335.40 L449.50,358.19 L450.40,377.10 L452.30,398.79 L453.20,382.92 L454.10,363.79 L455.00,352.51 L456.90,326.10 L458.70,299.32 L459.60,273.40 L460.50,262.70 L462.40,246.41 L463.30,265.71 L464.20,276.41 L465.10,300.04 L466.10,319.73 L467.00,324.79 L468.80,314.96 L470.70,300.90 L471.60,283.51 L472.50,276.74 L474.30,252.97 L475.30,266.13 L476.20,278.13 L477.10,309.00 L478.00,330.85 L478.90,353.69 L479.90,377.92 L480.80,399.76 L481.70,402.40 L482.60,389.34 L483.50,372.58 L484.40,352.96 L485.40,333.75 L486.30,329.37 L488.30,330.15 L490.30,329.57 L491.80,329.79 L492.70,334.68 L493.60,360.39 L494.50,382.26 L496.40,393.09 L497.30,385.50 L498.20,362.95 L499.10,352.99 L501.00,324.29 L502.80,300.10 L503.70,279.92 L504.60,265.84 L506.50,253.16 L507.40,263.45 L508.30,286.42 L509.20,300.76 L510.20,318.06 L511.10,325.03 L512.90,314.97 L514.80,299.53 L515.70,279.95 L516.60,270.17 L518.40,252.43 L519.40,259.28 L520.30,281.32 L521.20,308.33 L522.10,330.42 L523.00,351.82 L524.00,379.60 L524.90,398.63 L525.80,400.81 L526.70,391.24 L527.60,369.44 L528.50,353.33 L529.50,332.89 L530.40,330.40 L532.40,332.10 L534.40,329.44 L535.90,329.74 L536.80,334.67 L537.70,360.01 L538.60,374.59" fill="none" stroke="#7070f6" stroke-width="1.0" stroke-dasharray="22.5 8.5" stroke-linejoin="round"/><rect x="349.7" y="105" width="2.60" height="34" fill="#9dd5aa" opacity="0.75"/><rect x="391.9" y="112" width="3.30" height="33" fill="#9dd5aa" opacity="0.75"/><rect x="460.6" y="95" width="2.70" height="31" fill="#9dd5aa" opacity="0.75"/><rect x="509.3" y="101" width="2.70" height="23" fill="#9dd5aa" opacity="0.75"/><path d="M343.00,112.80 L343.60,106.00 L344.20,115.00 L344.90,104.00 L345.60,114.00 L346.30,102.00 L347.00,113.00 L347.70,103.00 L348.40,110.00" fill="none" stroke="#78c08c" stroke-width="0.9"/><path d="M453.00,104.80 L454.00,109.00 L455.00,102.00 L456.00,110.00 L457.20,100.60 L458.20,109.00 L459.20,101.00 L460.00,106.00" fill="none" stroke="#78c08c" stroke-width="0.9"/><path d="M509.30,108.00 L509.80,122.00 L510.30,104.00 L510.80,123.00 L511.30,106.00 L511.80,118.00" fill="none" stroke="#78c08c" stroke-width="0.9"/><path d="M324.80,109.80 L328.00,111.00 L330.00,111.50 L333.90,113.40 L335.20,114.10 L337.80,116.00 L340.40,115.40 L342.20,113.50 L343.00,112.80 L344.50,109.00 L346.00,107.00 L347.50,106.00 L348.70,106.00 L349.50,84.20 L350.20,100.00 L351.10,139.00 L351.50,144.00 L351.90,125.00 L352.50,106.00 L353.40,104.40 L353.60,121.90 L354.00,110.00 L354.70,108.20 L356.00,107.50 L359.20,109.50 L361.20,108.90 L363.80,110.80 L369.00,110.80 L372.00,110.00 L375.00,108.50 L380.00,108.80 L387.10,109.20 L390.20,111.50 L392.00,114.00 L393.20,117.60 L393.80,135.00 L394.40,146.70 L394.80,125.00 L395.30,100.00 L396.20,72.10 L397.20,76.00 L397.70,100.00 L398.20,128.40 L398.50,127.40 L399.20,102.40 L400.00,116.00 L400.70,108.00 L401.50,114.50 L403.00,113.40 L405.30,112.30 L408.00,109.50 L411.40,107.00 L416.00,103.90 L420.50,104.70 L425.00,103.90 L430.00,105.20 L436.10,106.70 L439.10,107.10 L442.10,109.70 L443.60,110.20 L446.70,107.10 L449.70,105.60 L452.70,104.80 L455.00,105.00 L457.30,104.00 L459.50,104.00 L460.30,104.00 L461.00,84.00 L461.60,108.00 L462.40,125.00 L463.10,143.50 L463.60,120.00 L464.80,105.20 L465.60,105.60 L467.10,111.70 L468.60,113.20 L470.90,110.20 L475.50,110.90 L478.00,111.00 L481.50,110.90 L483.20,109.20 L485.80,105.80 L488.40,103.20 L491.90,101.50 L496.20,103.20 L499.60,105.80 L502.20,109.20 L504.00,113.60 L504.80,119.60 L505.30,124.80 L506.00,134.40 L506.40,143.50 L507.00,120.00 L507.40,90.00 L508.20,62.00 L509.00,82.40 L509.40,110.00 L509.80,118.00 L511.50,112.00 L512.50,108.00 L514.30,107.10 L518.80,107.90 L523.40,109.00 L526.40,108.60 L529.50,109.40 L534.00,109.40 L540.00,110.20 L543.30,111.70" fill="none" stroke="#42a767" stroke-width="1.05" stroke-linejoin="round"/><path d="M324.80,108.30 L327.00,107.20 L329.00,108.00 L330.00,106.30 L332.00,106.30 L333.90,107.60 L335.20,107.00 L336.00,110.00 L336.50,118.00 L336.50,136.20 L337.10,145.30 L338.40,150.50 L339.10,157.00 L339.40,164.70 L339.60,167.60 L340.20,162.00 L341.00,136.20 L341.70,115.40 L342.30,105.00 L342.30,114.70 L342.50,119.70 L342.70,104.00 L343.60,93.30 L344.90,88.80 L346.20,85.50 L346.90,90.00 L347.50,95.00 L348.30,90.00 L349.50,73.20 L350.10,72.50 L350.30,85.00 L350.10,97.90 L351.00,92.00 L352.00,100.00 L353.00,95.00 L354.00,96.60 L354.00,112.10 L354.60,100.00 L355.30,63.40 L356.00,65.40 L356.60,87.50 L357.20,80.00 L357.90,94.00 L358.60,104.40 L359.30,98.00 L360.20,90.00 L361.20,86.80 L363.10,88.10 L364.40,89.40 L365.70,92.70 L367.70,96.60 L369.60,99.80 L370.50,100.80 M378.75,98.45 L381.00,98.00 L384.00,97.80 L387.00,97.50 L390.00,96.00 L393.20,94.80 L393.90,92.60 L394.70,87.30 L395.50,60.00 L396.10,19.80 M396.10,19.80 L396.50,40.00 L397.20,80.00 L397.70,60.00 L398.20,85.00 L399.00,95.00 L400.00,80.00 L401.00,75.00 L402.00,88.00 L402.30,96.40 L403.00,110.00 L403.50,127.40 L404.00,118.00 L404.50,104.00 L405.30,110.00 L407.60,117.60 L410.60,110.00 L412.10,100.90 L414.40,100.20 L416.70,103.90 L419.00,108.50 L420.50,110.00 L423.50,103.90 L425.80,99.40 M431.80,98.60 L435.00,98.30 L438.00,97.50 L441.00,97.80 L443.00,98.50 L445.20,99.10 L447.40,100.60 L447.90,109.70 L448.20,125.30 L448.50,132.90 L449.70,148.00 L450.50,152.60 L451.20,157.90 L451.80,150.00 L452.70,119.20 L453.10,142.00 L453.50,110.00 L453.50,95.00 L454.20,87.00 L455.00,95.00 L456.00,85.00 L457.00,75.00 L458.00,68.00 L458.80,79.40 L459.50,79.40 L460.30,90.00 L461.00,85.50 L462.00,92.00 L463.00,88.00 L464.00,96.00 L465.00,85.00 L466.40,60.50 L467.10,77.90 L467.80,85.00 L468.60,73.30 L469.40,94.50 M470.90,82.40 L473.20,80.20 L475.50,83.20 L478.20,87.00 M480.60,93.70 L482.30,98.00 L484.90,100.60 L488.40,102.70 L491.90,103.20 L496.20,103.60 M504.00,106.60 L505.70,105.80 L506.10,95.00 L506.70,54.40 L507.50,43.00 M507.50,43.00 L508.20,55.20 L507.50,77.90 L509.00,77.90 L509.50,70.00 L510.50,100.00 L511.50,95.00 L512.60,87.60 L512.80,88.50 L513.50,91.50 L513.50,98.00 L514.30,100.60 L515.20,121.40 L515.80,120.80 L515.00,130.60 L516.60,143.50 L517.50,138.00 L518.80,131.40 L520.40,123.80 L522.60,120.00 L524.90,111.70 L527.20,113.20 L529.50,116.20 L531.00,119.20 L533.20,117.70 M536.30,109.40 L537.80,102.60 L540.00,100.30 L541.60,101.80 L543.30,101.00" fill="none" stroke="#7070f6" stroke-width="1.0" stroke-dasharray="22.5 8.5" stroke-linejoin="round"/><rect x="153.6" y="7.8" width="103.70000000000002" height="32.300000000000004" fill="#fff" stroke="#808080" stroke-width="1.2"/><line x1="156.8" y1="18.4" x2="173.8" y2="18.4" stroke="#3f7fd6" stroke-width="1.3"/><line x1="156.8" y1="32.1" x2="173.8" y2="32.1" stroke="#2db457" stroke-width="1.3"/><text x="178.6" y="22.0" font-family="'Liberation Serif', 'Times New Roman', serif" font-size="10.4" fill="#1e1e1e" stroke="#1e1e1e" stroke-width="0.2" textLength="52.3" lengthAdjust="spacingAndGlyphs">Uncontrolled</text><text x="178.6" y="35.7" font-family="'Liberation Serif', 'Times New Roman', serif" font-size="10.4" fill="#1e1e1e" stroke="#1e1e1e" stroke-width="0.2" textLength="75.6" lengthAdjust="spacingAndGlyphs">Fuzzy−PID control</text><rect x="438.6" y="9.6" width="104.69999999999993" height="32.699999999999996" fill="#fff" stroke="#808080" stroke-width="1.2"/><line x1="442" y1="19.6" x2="459.8" y2="19.6" stroke="#3f7fd6" stroke-width="1.3"/><line x1="442" y1="33.7" x2="459.8" y2="33.7" stroke="#2db457" stroke-width="1.3"/><text x="464.0" y="23.200000000000003" font-family="'Liberation Serif', 'Times New Roman', serif" font-size="10.4" fill="#1e1e1e" stroke="#1e1e1e" stroke-width="0.2" textLength="52.8" lengthAdjust="spacingAndGlyphs">Uncontrolled</text><text x="464.0" y="37.300000000000004" font-family="'Liberation Serif', 'Times New Roman', serif" font-size="10.4" fill="#1e1e1e" stroke="#1e1e1e" stroke-width="0.2" textLength="76.0" lengthAdjust="spacingAndGlyphs">Fuzzy−PID control</text><rect x="148.7" y="243.6" width="103.4" height="32.599999999999994" fill="#fff" stroke="#808080" stroke-width="1.2"/><line x1="151.3" y1="253.7" x2="168.4" y2="253.7" stroke="#3f7fd6" stroke-width="1.3"/><line x1="151.3" y1="268.1" x2="168.4" y2="268.1" stroke="#2db457" stroke-width="1.3"/><text x="173.5" y="257.3" font-family="'Liberation Serif', 'Times New Roman', serif" font-size="10.4" fill="#1e1e1e" stroke="#1e1e1e" stroke-width="0.2" textLength="52.3" lengthAdjust="spacingAndGlyphs">Uncontrolled</text><text x="173.5" y="271.70000000000005" font-family="'Liberation Serif', 'Times New Roman', serif" font-size="10.4" fill="#1e1e1e" stroke="#1e1e1e" stroke-width="0.2" textLength="75.6" lengthAdjust="spacingAndGlyphs">Fuzzy−PID control</text><rect x="435.5" y="242.5" width="104.79999999999995" height="32.60000000000002" fill="#fff" stroke="#808080" stroke-width="1.2"/><line x1="438.2" y1="253.0" x2="455.7" y2="253.0" stroke="#3f7fd6" stroke-width="1.3"/><line x1="438.2" y1="267.1" x2="455.7" y2="267.1" stroke="#2db457" stroke-width="1.3"/><text x="460.6" y="256.6" font-family="'Liberation Serif', 'Times New Roman', serif" font-size="10.4" fill="#1e1e1e" stroke="#1e1e1e" stroke-width="0.2" textLength="52.6" lengthAdjust="spacingAndGlyphs">Uncontrolled</text><text x="460.6" y="270.70000000000005" font-family="'Liberation Serif', 'Times New Roman', serif" font-size="10.4" fill="#1e1e1e" stroke="#1e1e1e" stroke-width="0.2" textLength="77.0" lengthAdjust="spacingAndGlyphs">Fuzzy−PID control</text><text x="272" y="225.3" text-anchor="middle" font-family="'Liberation Serif', 'Times New Roman', serif" font-weight="bold" font-size="14.5" fill="#1e1e1e">(a)</text><text x="272.3" y="456.7" text-anchor="middle" font-family="'Liberation Serif', 'Times New Roman', serif" font-weight="bold" font-size="15.2" fill="#1e1e1e">(b)</text>
</svg></body></html>
